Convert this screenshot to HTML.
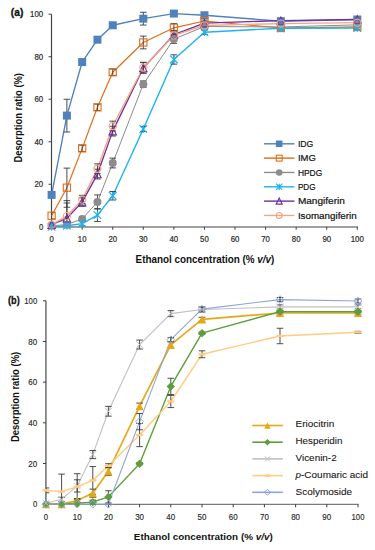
<!DOCTYPE html>
<html><head><meta charset="utf-8"><style>
html,body{margin:0;padding:0;background:#fff;}
body{width:375px;height:550px;overflow:hidden;}
svg{display:block;}
text{font-family:"Liberation Sans",sans-serif;}
.ta{font-size:8.4px;fill:#2a2a2a;stroke:#2a2a2a;stroke-width:0.2px;}
.tb{font-size:8.8px;fill:#2a2a2a;stroke:#2a2a2a;stroke-width:0.15px;}
.la{font-size:9.6px;fill:#111;stroke:#111;stroke-width:0.2px;}
.lb{font-size:9px;fill:#1a1a1a;stroke:#1a1a1a;stroke-width:0.1px;}
.ti{font-size:10.2px;font-weight:bold;fill:#111;}
.tx{font-size:10.5px;font-weight:bold;fill:#111;}
.tx2{font-size:9px;font-weight:bold;fill:#111;}
.pl{font-size:12px;font-weight:bold;fill:#111;stroke:#111;stroke-width:0.3px;}
</style></head><body>
<svg width="375" height="550" viewBox="0 0 375 550">
<defs><clipPath id="ca"><rect x="51.6" y="0" width="320" height="227"/></clipPath><clipPath id="cb"><rect x="46.3" y="280" width="320" height="224.5"/></clipPath></defs>
<rect width="375" height="550" fill="#fff"/>
<text x="10.8" y="16.1" textLength="12.5" lengthAdjust="spacingAndGlyphs" class="pl" style="font-size:10.6px">(a)</text>
<text x="8" y="303.9" textLength="11.7" lengthAdjust="spacingAndGlyphs" class="pl" style="font-size:11.8px">(b)</text>
<text transform="translate(22.2 162.6) rotate(-90)" textLength="89.6" lengthAdjust="spacingAndGlyphs" class="ti">Desorption ratio (%)</text>
<text transform="translate(18.9 442.1) rotate(-90)" textLength="90.3" lengthAdjust="spacingAndGlyphs" class="ti">Desorption ratio (%)</text>
<text x="135.6" y="262.8" textLength="138.8" lengthAdjust="spacingAndGlyphs" class="tx">Ethanol concentration (% <tspan font-style="italic">v/v</tspan>)</text>
<text x="133.8" y="540" textLength="139" lengthAdjust="spacingAndGlyphs" class="tx2">Ethanol concentration (% <tspan font-style="italic">v/v</tspan>)</text>
<path d="M51.5 14.2V227.3M51 227H357.8" stroke="#454545" stroke-width="1.2" fill="none"/>
<path d="M48.5 226.8H51.5M48.5 184.28H51.5M48.5 141.76H51.5M48.5 99.24H51.5M48.5 56.72H51.5M48.5 14.2H51.5M51.6 226.8V229.8M82.17 226.8V229.8M112.74 226.8V229.8M143.31 226.8V229.8M173.88 226.8V229.8M204.45 226.8V229.8M235.02 226.8V229.8M265.59 226.8V229.8M296.16 226.8V229.8M326.73 226.8V229.8M357.3 226.8V229.8" stroke="#454545" stroke-width="1" fill="none"/>
<text x="43.2" y="229.9" text-anchor="end" textLength="4.3" lengthAdjust="spacingAndGlyphs" class="ta">0</text>
<text x="43.2" y="187.38" text-anchor="end" textLength="8.7" lengthAdjust="spacingAndGlyphs" class="ta">20</text>
<text x="43.2" y="144.86" text-anchor="end" textLength="8.7" lengthAdjust="spacingAndGlyphs" class="ta">40</text>
<text x="43.2" y="102.34" text-anchor="end" textLength="8.7" lengthAdjust="spacingAndGlyphs" class="ta">60</text>
<text x="43.2" y="59.82" text-anchor="end" textLength="8.7" lengthAdjust="spacingAndGlyphs" class="ta">80</text>
<text x="43.2" y="17.3" text-anchor="end" textLength="13.2" lengthAdjust="spacingAndGlyphs" class="ta">100</text>
<text x="51.6" y="242.2" text-anchor="middle" textLength="4.3" lengthAdjust="spacingAndGlyphs" class="ta">0</text>
<text x="82.17" y="242.2" text-anchor="middle" textLength="8.7" lengthAdjust="spacingAndGlyphs" class="ta">10</text>
<text x="112.74" y="242.2" text-anchor="middle" textLength="8.7" lengthAdjust="spacingAndGlyphs" class="ta">20</text>
<text x="143.31" y="242.2" text-anchor="middle" textLength="8.7" lengthAdjust="spacingAndGlyphs" class="ta">30</text>
<text x="173.88" y="242.2" text-anchor="middle" textLength="8.7" lengthAdjust="spacingAndGlyphs" class="ta">40</text>
<text x="204.45" y="242.2" text-anchor="middle" textLength="8.7" lengthAdjust="spacingAndGlyphs" class="ta">50</text>
<text x="235.02" y="242.2" text-anchor="middle" textLength="8.7" lengthAdjust="spacingAndGlyphs" class="ta">60</text>
<text x="265.59" y="242.2" text-anchor="middle" textLength="8.7" lengthAdjust="spacingAndGlyphs" class="ta">70</text>
<text x="296.16" y="242.2" text-anchor="middle" textLength="8.7" lengthAdjust="spacingAndGlyphs" class="ta">80</text>
<text x="326.73" y="242.2" text-anchor="middle" textLength="8.7" lengthAdjust="spacingAndGlyphs" class="ta">90</text>
<text x="357.3" y="242.2" text-anchor="middle" textLength="13.2" lengthAdjust="spacingAndGlyphs" class="ta">100</text>
<polyline points="51.6,194.91 66.89,115.61 82.17,62.04 97.45,39.71 112.74,25.26 143.31,18.66 173.88,13.56 204.45,15.26 280.88,21.22 357.3,19.52" fill="none" stroke="#4F81BD" stroke-width="1.35" stroke-linejoin="round"/>
<polyline points="51.6,215.74 66.89,187.68 82.17,148.35 97.45,107.32 112.74,72.24 143.31,42.48 173.88,27.81 204.45,21 280.88,28.02 357.3,26.96" fill="none" stroke="#E06D18" stroke-width="1.2" stroke-linejoin="round"/>
<polyline points="51.6,225.74 66.89,224.67 82.17,218.93 97.45,201.93 112.74,163.02 143.31,84.15 173.88,39.07 204.45,26.53 280.88,26.96 357.3,24.83" fill="none" stroke="#8C8C8C" stroke-width="1.0" stroke-linejoin="round"/>
<polyline points="51.6,226.8 66.89,225.74 82.17,223.61 97.45,215.11 112.74,195.76 143.31,129 173.88,59.48 204.45,32.27 280.88,28.23 357.3,28.02" fill="none" stroke="#1FB2EE" stroke-width="1.4" stroke-linejoin="round"/>
<polyline points="51.6,224.67 66.89,218.3 82.17,202.14 97.45,174.08 112.74,131.13 143.31,67.99 173.88,34.61 204.45,23.13 280.88,20.58 357.3,19.52" fill="none" stroke="#7030A0" stroke-width="1.35" stroke-linejoin="round"/>
<polyline points="51.6,224.67 66.89,216.17 82.17,199.59 97.45,168.76 112.74,126.03 143.31,67.56 173.88,35.46 204.45,25.47 280.88,23.55 357.3,22.7" fill="none" stroke="#F5A582" stroke-width="1.35" stroke-linejoin="round"/>
<g clip-path="url(#ca)">
<path d="M66.89 99.24V131.98M63.59 99.24H70.19M63.59 131.98H70.19" stroke="#3a3a3a" stroke-width="0.9" fill="none"/>
<path d="M143.31 12.29V25.04M140.01 12.29H146.61M140.01 25.04H146.61" stroke="#3a3a3a" stroke-width="0.9" fill="none"/>
<path d="M280.88 19.09V23.34M277.57 19.09H284.18M277.57 23.34H284.18" stroke="#3a3a3a" stroke-width="0.9" fill="none"/>
<path d="M357.3 17.39V21.64M354 17.39H360.6M354 21.64H360.6" stroke="#3a3a3a" stroke-width="0.9" fill="none"/>
<path d="M51.6 212.56V218.93M48.3 212.56H54.9M48.3 218.93H54.9" stroke="#3a3a3a" stroke-width="0.9" fill="none"/>
<path d="M66.89 168.12V207.24M63.59 168.12H70.19M63.59 207.24H70.19" stroke="#3a3a3a" stroke-width="0.9" fill="none"/>
<path d="M82.17 145.16V151.54M78.87 145.16H85.47M78.87 151.54H85.47" stroke="#3a3a3a" stroke-width="0.9" fill="none"/>
<path d="M97.45 104.13V110.51M94.16 104.13H100.75M94.16 110.51H100.75" stroke="#3a3a3a" stroke-width="0.9" fill="none"/>
<path d="M112.74 69.05V75.43M109.44 69.05H116.04M109.44 75.43H116.04" stroke="#3a3a3a" stroke-width="0.9" fill="none"/>
<path d="M143.31 36.1V48.85M140.01 36.1H146.61M140.01 48.85H146.61" stroke="#3a3a3a" stroke-width="0.9" fill="none"/>
<path d="M173.88 23.55V32.06M170.58 23.55H177.18M170.58 32.06H177.18" stroke="#3a3a3a" stroke-width="0.9" fill="none"/>
<path d="M204.45 18.88V23.13M201.15 18.88H207.75M201.15 23.13H207.75" stroke="#3a3a3a" stroke-width="0.9" fill="none"/>
<path d="M280.88 25.89V30.15M277.57 25.89H284.18M277.57 30.15H284.18" stroke="#3a3a3a" stroke-width="0.9" fill="none"/>
<path d="M357.3 24.83V29.08M354 24.83H360.6M354 29.08H360.6" stroke="#3a3a3a" stroke-width="0.9" fill="none"/>
<path d="M51.6 224.67V226.8M48.3 224.67H54.9M48.3 226.8H54.9" stroke="#3a3a3a" stroke-width="0.9" fill="none"/>
<path d="M66.89 222.55V226.8M63.59 222.55H70.19M63.59 226.8H70.19" stroke="#3a3a3a" stroke-width="0.9" fill="none"/>
<path d="M82.17 216.81V221.06M78.87 216.81H85.47M78.87 221.06H85.47" stroke="#3a3a3a" stroke-width="0.9" fill="none"/>
<path d="M97.45 194.91V208.94M94.16 194.91H100.75M94.16 208.94H100.75" stroke="#3a3a3a" stroke-width="0.9" fill="none"/>
<path d="M112.74 158.13V167.91M109.44 158.13H116.04M109.44 167.91H116.04" stroke="#3a3a3a" stroke-width="0.9" fill="none"/>
<path d="M143.31 80.96V87.33M140.01 80.96H146.61M140.01 87.33H146.61" stroke="#3a3a3a" stroke-width="0.9" fill="none"/>
<path d="M173.88 34.82V43.33M170.58 34.82H177.18M170.58 43.33H177.18" stroke="#3a3a3a" stroke-width="0.9" fill="none"/>
<path d="M204.45 24.4V28.66M201.15 24.4H207.75M201.15 28.66H207.75" stroke="#3a3a3a" stroke-width="0.9" fill="none"/>
<path d="M280.88 24.83V29.08M277.57 24.83H284.18M277.57 29.08H284.18" stroke="#3a3a3a" stroke-width="0.9" fill="none"/>
<path d="M357.3 22.7V26.96M354 22.7H360.6M354 26.96H360.6" stroke="#3a3a3a" stroke-width="0.9" fill="none"/>
<path d="M66.89 223.61V226.8M63.59 223.61H70.19M63.59 226.8H70.19" stroke="#3a3a3a" stroke-width="0.9" fill="none"/>
<path d="M82.17 221.49V225.74M78.87 221.49H85.47M78.87 225.74H85.47" stroke="#3a3a3a" stroke-width="0.9" fill="none"/>
<path d="M97.45 208.73V221.49M94.16 208.73H100.75M94.16 221.49H100.75" stroke="#3a3a3a" stroke-width="0.9" fill="none"/>
<path d="M112.74 191.51V200.01M109.44 191.51H116.04M109.44 200.01H116.04" stroke="#3a3a3a" stroke-width="0.9" fill="none"/>
<path d="M143.31 126.45V131.56M140.01 126.45H146.61M140.01 131.56H146.61" stroke="#3a3a3a" stroke-width="0.9" fill="none"/>
<path d="M173.88 54.81V64.16M170.58 54.81H177.18M170.58 64.16H177.18" stroke="#3a3a3a" stroke-width="0.9" fill="none"/>
<path d="M204.45 30.15V34.4M201.15 30.15H207.75M201.15 34.4H207.75" stroke="#3a3a3a" stroke-width="0.9" fill="none"/>
<path d="M280.88 26.11V30.36M277.57 26.11H284.18M277.57 30.36H284.18" stroke="#3a3a3a" stroke-width="0.9" fill="none"/>
<path d="M357.3 25.89V30.15M354 25.89H360.6M354 30.15H360.6" stroke="#3a3a3a" stroke-width="0.9" fill="none"/>
<path d="M51.6 223.61V225.74M48.3 223.61H54.9M48.3 225.74H54.9" stroke="#3a3a3a" stroke-width="0.9" fill="none"/>
<path d="M66.89 200.65V226.8M63.59 200.65H70.19M63.59 226.8H70.19" stroke="#3a3a3a" stroke-width="0.9" fill="none"/>
<path d="M82.17 197.89V206.39M78.87 197.89H85.47M78.87 206.39H85.47" stroke="#3a3a3a" stroke-width="0.9" fill="none"/>
<path d="M97.45 169.19V178.97M94.16 169.19H100.75M94.16 178.97H100.75" stroke="#3a3a3a" stroke-width="0.9" fill="none"/>
<path d="M112.74 126.24V136.02M109.44 126.24H116.04M109.44 136.02H116.04" stroke="#3a3a3a" stroke-width="0.9" fill="none"/>
<path d="M143.31 62.67V73.3M140.01 62.67H146.61M140.01 73.3H146.61" stroke="#3a3a3a" stroke-width="0.9" fill="none"/>
<path d="M173.88 30.36V38.86M170.58 30.36H177.18M170.58 38.86H177.18" stroke="#3a3a3a" stroke-width="0.9" fill="none"/>
<path d="M204.45 21V25.26M201.15 21H207.75M201.15 25.26H207.75" stroke="#3a3a3a" stroke-width="0.9" fill="none"/>
<path d="M280.88 18.45V22.7M277.57 18.45H284.18M277.57 22.7H284.18" stroke="#3a3a3a" stroke-width="0.9" fill="none"/>
<path d="M357.3 17.39V21.64M354 17.39H360.6M354 21.64H360.6" stroke="#3a3a3a" stroke-width="0.9" fill="none"/>
<path d="M51.6 223.61V225.74M48.3 223.61H54.9M48.3 225.74H54.9" stroke="#3a3a3a" stroke-width="0.9" fill="none"/>
<path d="M66.89 202.99V226.8M63.59 202.99H70.19M63.59 226.8H70.19" stroke="#3a3a3a" stroke-width="0.9" fill="none"/>
<path d="M82.17 195.34V203.84M78.87 195.34H85.47M78.87 203.84H85.47" stroke="#3a3a3a" stroke-width="0.9" fill="none"/>
<path d="M97.45 163.87V173.65M94.16 163.87H100.75M94.16 173.65H100.75" stroke="#3a3a3a" stroke-width="0.9" fill="none"/>
<path d="M112.74 121.14V130.92M109.44 121.14H116.04M109.44 130.92H116.04" stroke="#3a3a3a" stroke-width="0.9" fill="none"/>
<path d="M143.31 62.25V72.88M140.01 62.25H146.61M140.01 72.88H146.61" stroke="#3a3a3a" stroke-width="0.9" fill="none"/>
<path d="M173.88 31.21V39.71M170.58 31.21H177.18M170.58 39.71H177.18" stroke="#3a3a3a" stroke-width="0.9" fill="none"/>
<path d="M204.45 23.34V27.59M201.15 23.34H207.75M201.15 27.59H207.75" stroke="#3a3a3a" stroke-width="0.9" fill="none"/>
<path d="M280.88 21.43V25.68M277.57 21.43H284.18M277.57 25.68H284.18" stroke="#3a3a3a" stroke-width="0.9" fill="none"/>
<path d="M357.3 20.58V24.83M354 20.58H360.6M354 24.83H360.6" stroke="#3a3a3a" stroke-width="0.9" fill="none"/>
</g>
<rect x="47.6" y="190.91" width="8" height="8" fill="#4F81BD"/>
<rect x="62.89" y="111.61" width="8" height="8" fill="#4F81BD"/>
<rect x="78.17" y="58.04" width="8" height="8" fill="#4F81BD"/>
<rect x="93.45" y="35.71" width="8" height="8" fill="#4F81BD"/>
<rect x="108.74" y="21.26" width="8" height="8" fill="#4F81BD"/>
<rect x="139.31" y="14.66" width="8" height="8" fill="#4F81BD"/>
<rect x="169.88" y="9.56" width="8" height="8" fill="#4F81BD"/>
<rect x="200.45" y="11.26" width="8" height="8" fill="#4F81BD"/>
<rect x="276.88" y="17.22" width="8" height="8" fill="#4F81BD"/>
<rect x="353.3" y="15.52" width="8" height="8" fill="#4F81BD"/>
<rect x="48" y="212.14" width="7.2" height="7.2" fill="none" stroke="#E06D18" stroke-width="1.1"/>
<rect x="63.29" y="184.08" width="7.2" height="7.2" fill="none" stroke="#E06D18" stroke-width="1.1"/>
<rect x="78.57" y="144.75" width="7.2" height="7.2" fill="none" stroke="#E06D18" stroke-width="1.1"/>
<rect x="93.86" y="103.72" width="7.2" height="7.2" fill="none" stroke="#E06D18" stroke-width="1.1"/>
<rect x="109.14" y="68.64" width="7.2" height="7.2" fill="none" stroke="#E06D18" stroke-width="1.1"/>
<rect x="139.71" y="38.88" width="7.2" height="7.2" fill="none" stroke="#E06D18" stroke-width="1.1"/>
<rect x="170.28" y="24.21" width="7.2" height="7.2" fill="none" stroke="#E06D18" stroke-width="1.1"/>
<rect x="200.85" y="17.4" width="7.2" height="7.2" fill="none" stroke="#E06D18" stroke-width="1.1"/>
<rect x="277.27" y="24.42" width="7.2" height="7.2" fill="none" stroke="#E06D18" stroke-width="1.1"/>
<rect x="353.7" y="23.36" width="7.2" height="7.2" fill="none" stroke="#E06D18" stroke-width="1.1"/>
<circle cx="51.6" cy="225.74" r="4" fill="#8C8C8C"/>
<circle cx="66.89" cy="224.67" r="4" fill="#8C8C8C"/>
<circle cx="82.17" cy="218.93" r="4" fill="#8C8C8C"/>
<circle cx="97.45" cy="201.93" r="4" fill="#8C8C8C"/>
<circle cx="112.74" cy="163.02" r="4" fill="#8C8C8C"/>
<circle cx="143.31" cy="84.15" r="4" fill="#8C8C8C"/>
<circle cx="173.88" cy="39.07" r="4" fill="#8C8C8C"/>
<circle cx="204.45" cy="26.53" r="4" fill="#8C8C8C"/>
<circle cx="280.88" cy="26.96" r="4" fill="#8C8C8C"/>
<circle cx="357.3" cy="24.83" r="4" fill="#8C8C8C"/>
<path d="M47.8 223L55.4 230.6M55.4 223L47.8 230.6M51.6 223L51.6 230.6" stroke="#1FB2EE" stroke-width="1.2" fill="none"/>
<path d="M63.09 221.94L70.69 229.54M70.69 221.94L63.09 229.54M66.89 221.94L66.89 229.54" stroke="#1FB2EE" stroke-width="1.2" fill="none"/>
<path d="M78.37 219.81L85.97 227.41M85.97 219.81L78.37 227.41M82.17 219.81L82.17 227.41" stroke="#1FB2EE" stroke-width="1.2" fill="none"/>
<path d="M93.66 211.31L101.25 218.91M101.25 211.31L93.66 218.91M97.45 211.31L97.45 218.91" stroke="#1FB2EE" stroke-width="1.2" fill="none"/>
<path d="M108.94 191.96L116.54 199.56M116.54 191.96L108.94 199.56M112.74 191.96L112.74 199.56" stroke="#1FB2EE" stroke-width="1.2" fill="none"/>
<path d="M139.51 125.2L147.11 132.8M147.11 125.2L139.51 132.8M143.31 125.2L143.31 132.8" stroke="#1FB2EE" stroke-width="1.2" fill="none"/>
<path d="M170.08 55.68L177.68 63.28M177.68 55.68L170.08 63.28M173.88 55.68L173.88 63.28" stroke="#1FB2EE" stroke-width="1.2" fill="none"/>
<path d="M200.65 28.47L208.25 36.07M208.25 28.47L200.65 36.07M204.45 28.47L204.45 36.07" stroke="#1FB2EE" stroke-width="1.2" fill="none"/>
<path d="M277.07 24.43L284.68 32.03M284.68 24.43L277.07 32.03M280.88 24.43L280.88 32.03" stroke="#1FB2EE" stroke-width="1.2" fill="none"/>
<path d="M353.5 24.22L361.1 31.82M361.1 24.22L353.5 31.82M357.3 24.22L357.3 31.82" stroke="#1FB2EE" stroke-width="1.2" fill="none"/>
<path d="M51.6 220.97L55.3 228.37L47.9 228.37Z" fill="none" stroke="#7030A0" stroke-width="1.1" stroke-linejoin="miter"/>
<path d="M66.89 214.6L70.59 222L63.19 222Z" fill="none" stroke="#7030A0" stroke-width="1.1" stroke-linejoin="miter"/>
<path d="M82.17 198.44L85.87 205.84L78.47 205.84Z" fill="none" stroke="#7030A0" stroke-width="1.1" stroke-linejoin="miter"/>
<path d="M97.45 170.38L101.16 177.78L93.75 177.78Z" fill="none" stroke="#7030A0" stroke-width="1.1" stroke-linejoin="miter"/>
<path d="M112.74 127.43L116.44 134.83L109.04 134.83Z" fill="none" stroke="#7030A0" stroke-width="1.1" stroke-linejoin="miter"/>
<path d="M143.31 64.29L147.01 71.69L139.61 71.69Z" fill="none" stroke="#7030A0" stroke-width="1.1" stroke-linejoin="miter"/>
<path d="M173.88 30.91L177.58 38.31L170.18 38.31Z" fill="none" stroke="#7030A0" stroke-width="1.1" stroke-linejoin="miter"/>
<path d="M204.45 19.43L208.15 26.83L200.75 26.83Z" fill="none" stroke="#7030A0" stroke-width="1.1" stroke-linejoin="miter"/>
<path d="M280.88 16.88L284.57 24.28L277.18 24.28Z" fill="none" stroke="#7030A0" stroke-width="1.1" stroke-linejoin="miter"/>
<path d="M357.3 15.82L361 23.22L353.6 23.22Z" fill="none" stroke="#7030A0" stroke-width="1.1" stroke-linejoin="miter"/>
<circle cx="51.6" cy="224.67" r="3.6" fill="none" stroke="#F5A582" stroke-width="1.1"/>
<circle cx="66.89" cy="216.17" r="3.6" fill="none" stroke="#F5A582" stroke-width="1.1"/>
<circle cx="82.17" cy="199.59" r="3.6" fill="none" stroke="#F5A582" stroke-width="1.1"/>
<circle cx="97.45" cy="168.76" r="3.6" fill="none" stroke="#F5A582" stroke-width="1.1"/>
<circle cx="112.74" cy="126.03" r="3.6" fill="none" stroke="#F5A582" stroke-width="1.1"/>
<circle cx="143.31" cy="67.56" r="3.6" fill="none" stroke="#F5A582" stroke-width="1.1"/>
<circle cx="173.88" cy="35.46" r="3.6" fill="none" stroke="#F5A582" stroke-width="1.1"/>
<circle cx="204.45" cy="25.47" r="3.6" fill="none" stroke="#F5A582" stroke-width="1.1"/>
<circle cx="280.88" cy="23.55" r="3.6" fill="none" stroke="#F5A582" stroke-width="1.1"/>
<circle cx="357.3" cy="22.7" r="3.6" fill="none" stroke="#F5A582" stroke-width="1.1"/>
<path d="M264 143.8H294.4" stroke="#4F81BD" stroke-width="1.4"/>
<rect x="275.92" y="140.52" width="6.56" height="6.56" fill="#4F81BD"/>
<text x="297.9" y="146.9" textLength="15.4" lengthAdjust="spacingAndGlyphs" class="la">IDG</text>
<path d="M264 158.13H294.4" stroke="#E06D18" stroke-width="1.4"/>
<rect x="276.25" y="155.18" width="5.9" height="5.9" fill="none" stroke="#E06D18" stroke-width="1.1"/>
<text x="297.9" y="161.26" textLength="17.9" lengthAdjust="spacingAndGlyphs" class="la">IMG</text>
<path d="M264 172.46H294.4" stroke="#8C8C8C" stroke-width="1.4"/>
<circle cx="279.2" cy="172.46" r="3.28" fill="#8C8C8C"/>
<text x="297.9" y="175.62" textLength="24.4" lengthAdjust="spacingAndGlyphs" class="la">HPDG</text>
<path d="M264 186.79H294.4" stroke="#1FB2EE" stroke-width="1.4"/>
<path d="M276.08 183.67L282.32 189.91M282.32 183.67L276.08 189.91M279.2 183.67L279.2 189.91" stroke="#1FB2EE" stroke-width="1.2" fill="none"/>
<text x="297.9" y="189.98" textLength="17.7" lengthAdjust="spacingAndGlyphs" class="la">PDG</text>
<path d="M264 201.12H294.4" stroke="#7030A0" stroke-width="1.4"/>
<path d="M279.2 198.09L282.23 204.15L276.17 204.15Z" fill="none" stroke="#7030A0" stroke-width="1.1" stroke-linejoin="miter"/>
<text x="297.9" y="204.34" textLength="47" lengthAdjust="spacingAndGlyphs" class="la">Mangiferin</text>
<path d="M264 215.45H294.4" stroke="#F5A582" stroke-width="1.4"/>
<circle cx="279.2" cy="215.45" r="2.95" fill="none" stroke="#F5A582" stroke-width="1.1"/>
<text x="297.9" y="218.7" textLength="58.8" lengthAdjust="spacingAndGlyphs" class="la">Isomangiferin</text>
<path d="M45.9 300.8V504.7" stroke="#858585" stroke-width="1.8" fill="none"/><path d="M45.5 504.3H358.5" stroke="#5a5a5a" stroke-width="1" fill="none"/>
<path d="M43 504.2H46M43 463.52H46M43 422.84H46M43 382.16H46M43 341.48H46M43 300.8H46M46 504.3V507.3M77.2 504.3V507.3M108.4 504.3V507.3M139.6 504.3V507.3M170.8 504.3V507.3M202 504.3V507.3M233.2 504.3V507.3M264.4 504.3V507.3M295.6 504.3V507.3M326.8 504.3V507.3M358 504.3V507.3" stroke="#3a3a3a" stroke-width="1" fill="none"/>
<text x="37.2" y="507.3" text-anchor="end" textLength="4.3" lengthAdjust="spacingAndGlyphs" class="tb">0</text>
<text x="37.2" y="466.62" text-anchor="end" textLength="8.9" lengthAdjust="spacingAndGlyphs" class="tb">20</text>
<text x="37.2" y="425.94" text-anchor="end" textLength="8.9" lengthAdjust="spacingAndGlyphs" class="tb">40</text>
<text x="37.2" y="385.26" text-anchor="end" textLength="8.9" lengthAdjust="spacingAndGlyphs" class="tb">60</text>
<text x="37.2" y="344.58" text-anchor="end" textLength="8.9" lengthAdjust="spacingAndGlyphs" class="tb">80</text>
<text x="37.2" y="303.9" text-anchor="end" textLength="12.9" lengthAdjust="spacingAndGlyphs" class="tb">100</text>
<text x="46" y="520.2" text-anchor="middle" textLength="4.3" lengthAdjust="spacingAndGlyphs" class="tb">0</text>
<text x="77.2" y="520.2" text-anchor="middle" textLength="8.9" lengthAdjust="spacingAndGlyphs" class="tb">10</text>
<text x="108.4" y="520.2" text-anchor="middle" textLength="8.9" lengthAdjust="spacingAndGlyphs" class="tb">20</text>
<text x="139.6" y="520.2" text-anchor="middle" textLength="8.9" lengthAdjust="spacingAndGlyphs" class="tb">30</text>
<text x="170.8" y="520.2" text-anchor="middle" textLength="8.9" lengthAdjust="spacingAndGlyphs" class="tb">40</text>
<text x="202" y="520.2" text-anchor="middle" textLength="8.9" lengthAdjust="spacingAndGlyphs" class="tb">50</text>
<text x="233.2" y="520.2" text-anchor="middle" textLength="8.9" lengthAdjust="spacingAndGlyphs" class="tb">60</text>
<text x="264.4" y="520.2" text-anchor="middle" textLength="8.9" lengthAdjust="spacingAndGlyphs" class="tb">70</text>
<text x="295.6" y="520.2" text-anchor="middle" textLength="8.9" lengthAdjust="spacingAndGlyphs" class="tb">80</text>
<text x="326.8" y="520.2" text-anchor="middle" textLength="8.9" lengthAdjust="spacingAndGlyphs" class="tb">90</text>
<text x="358" y="520.2" text-anchor="middle" textLength="12.9" lengthAdjust="spacingAndGlyphs" class="tb">100</text>
<polyline points="46,504.2 61.6,504.2 77.2,500.54 92.8,493.22 108.4,471.25 139.6,406.16 170.8,344.94 202,319.31 280,313 358,313" fill="none" stroke="#E6A817" stroke-width="1.7" stroke-linejoin="round"/>
<polyline points="46,504.2 61.6,504.2 77.2,503.18 92.8,502.17 108.4,496.88 139.6,463.72 170.8,386.43 202,333.14 280,311.58 358,311.78" fill="none" stroke="#5E9E3A" stroke-width="1.4" stroke-linejoin="round"/>
<polyline points="46,503.18 61.6,499.32 77.2,485.89 92.8,454.57 108.4,411.25 139.6,344.53 170.8,313.61 202,309.55 280,306.9 358,306.9" fill="none" stroke="#C0C0C0" stroke-width="1.1" stroke-linejoin="round"/>
<polyline points="46,490.37 61.6,491.59 77.2,486.71 92.8,480.4 108.4,465.76 139.6,435.04 170.8,401.48 202,354.29 280,335.99 358,332.33" fill="none" stroke="#FFCC80" stroke-width="1.45" stroke-linejoin="round"/>
<polyline points="46,504.2 61.6,504.2 77.2,504.2 92.8,504.2 108.4,504.2 139.6,421.62 170.8,339.65 202,309.14 280,299.58 358,301" fill="none" stroke="#8EA4DA" stroke-width="1.1" stroke-linejoin="round"/>
<g clip-path="url(#cb)">
<path d="M77.2 498.5V502.57M73.9 498.5H80.5M73.9 502.57H80.5" stroke="#3a3a3a" stroke-width="0.9" fill="none"/>
<path d="M92.8 489.15V497.28M89.5 489.15H96.1M89.5 497.28H96.1" stroke="#3a3a3a" stroke-width="0.9" fill="none"/>
<path d="M108.4 467.18V475.32M105.1 467.18H111.7M105.1 475.32H111.7" stroke="#3a3a3a" stroke-width="0.9" fill="none"/>
<path d="M139.6 403.11V409.21M136.3 403.11H142.9M136.3 409.21H142.9" stroke="#3a3a3a" stroke-width="0.9" fill="none"/>
<path d="M170.8 341.89V347.99M167.5 341.89H174.1M167.5 347.99H174.1" stroke="#3a3a3a" stroke-width="0.9" fill="none"/>
<path d="M202 317.28V321.34M198.7 317.28H205.3M198.7 321.34H205.3" stroke="#3a3a3a" stroke-width="0.9" fill="none"/>
<path d="M280 310.97V315.04M276.7 310.97H283.3M276.7 315.04H283.3" stroke="#3a3a3a" stroke-width="0.9" fill="none"/>
<path d="M358 310.97V315.04M354.7 310.97H361.3M354.7 315.04H361.3" stroke="#3a3a3a" stroke-width="0.9" fill="none"/>
<path d="M77.2 502.17V504.2M73.9 502.17H80.5M73.9 504.2H80.5" stroke="#3a3a3a" stroke-width="0.9" fill="none"/>
<path d="M92.8 500.13V504.2M89.5 500.13H96.1M89.5 504.2H96.1" stroke="#3a3a3a" stroke-width="0.9" fill="none"/>
<path d="M108.4 490.78V502.98M105.1 490.78H111.7M105.1 502.98H111.7" stroke="#3a3a3a" stroke-width="0.9" fill="none"/>
<path d="M139.6 462.71V464.74M136.3 462.71H142.9M136.3 464.74H142.9" stroke="#3a3a3a" stroke-width="0.9" fill="none"/>
<path d="M170.8 378.3V394.57M167.5 378.3H174.1M167.5 394.57H174.1" stroke="#3a3a3a" stroke-width="0.9" fill="none"/>
<path d="M202 332.12V334.16M198.7 332.12H205.3M198.7 334.16H205.3" stroke="#3a3a3a" stroke-width="0.9" fill="none"/>
<path d="M280 310.56V312.6M276.7 310.56H283.3M276.7 312.6H283.3" stroke="#3a3a3a" stroke-width="0.9" fill="none"/>
<path d="M358 310.77V312.8M354.7 310.77H361.3M354.7 312.8H361.3" stroke="#3a3a3a" stroke-width="0.9" fill="none"/>
<path d="M46 502.17V504.2M42.7 502.17H49.3M42.7 504.2H49.3" stroke="#3a3a3a" stroke-width="0.9" fill="none"/>
<path d="M61.6 497.28V501.35M58.3 497.28H64.9M58.3 501.35H64.9" stroke="#3a3a3a" stroke-width="0.9" fill="none"/>
<path d="M77.2 479.79V492M73.9 479.79H80.5M73.9 492H80.5" stroke="#3a3a3a" stroke-width="0.9" fill="none"/>
<path d="M92.8 450.5V458.64M89.5 450.5H96.1M89.5 458.64H96.1" stroke="#3a3a3a" stroke-width="0.9" fill="none"/>
<path d="M108.4 406.36V416.13M105.1 406.36H111.7M105.1 416.13H111.7" stroke="#3a3a3a" stroke-width="0.9" fill="none"/>
<path d="M139.6 340.06V349.01M136.3 340.06H142.9M136.3 349.01H142.9" stroke="#3a3a3a" stroke-width="0.9" fill="none"/>
<path d="M170.8 310.56V316.67M167.5 310.56H174.1M167.5 316.67H174.1" stroke="#3a3a3a" stroke-width="0.9" fill="none"/>
<path d="M202 306.9V312.19M198.7 306.9H205.3M198.7 312.19H205.3" stroke="#3a3a3a" stroke-width="0.9" fill="none"/>
<path d="M280 304.87V308.94M276.7 304.87H283.3M276.7 308.94H283.3" stroke="#3a3a3a" stroke-width="0.9" fill="none"/>
<path d="M358 304.87V308.94M354.7 304.87H361.3M354.7 308.94H361.3" stroke="#3a3a3a" stroke-width="0.9" fill="none"/>
<path d="M46 487.93V492.81M42.7 487.93H49.3M42.7 492.81H49.3" stroke="#3a3a3a" stroke-width="0.9" fill="none"/>
<path d="M61.6 474.1V504.2M58.3 474.1H64.9M58.3 504.2H64.9" stroke="#3a3a3a" stroke-width="0.9" fill="none"/>
<path d="M77.2 473.69V499.73M73.9 473.69H80.5M73.9 499.73H80.5" stroke="#3a3a3a" stroke-width="0.9" fill="none"/>
<path d="M92.8 466.57V494.23M89.5 466.57H96.1M89.5 494.23H96.1" stroke="#3a3a3a" stroke-width="0.9" fill="none"/>
<path d="M108.4 463.72V467.79M105.1 463.72H111.7M105.1 467.79H111.7" stroke="#3a3a3a" stroke-width="0.9" fill="none"/>
<path d="M139.6 423.45V446.64M136.3 423.45H142.9M136.3 446.64H142.9" stroke="#3a3a3a" stroke-width="0.9" fill="none"/>
<path d="M170.8 395.38V407.58M167.5 395.38H174.1M167.5 407.58H174.1" stroke="#3a3a3a" stroke-width="0.9" fill="none"/>
<path d="M202 350.84V357.75M198.7 350.84H205.3M198.7 357.75H205.3" stroke="#3a3a3a" stroke-width="0.9" fill="none"/>
<path d="M280 328.26V343.72M276.7 328.26H283.3M276.7 343.72H283.3" stroke="#3a3a3a" stroke-width="0.9" fill="none"/>
<path d="M358 331.31V333.34M354.7 331.31H361.3M354.7 333.34H361.3" stroke="#3a3a3a" stroke-width="0.9" fill="none"/>
<path d="M139.6 413.48V429.76M136.3 413.48H142.9M136.3 429.76H142.9" stroke="#3a3a3a" stroke-width="0.9" fill="none"/>
<path d="M170.8 337.62V341.68M167.5 337.62H174.1M167.5 341.68H174.1" stroke="#3a3a3a" stroke-width="0.9" fill="none"/>
<path d="M202 307.11V311.17M198.7 307.11H205.3M198.7 311.17H205.3" stroke="#3a3a3a" stroke-width="0.9" fill="none"/>
<path d="M280 297.55V301.61M276.7 297.55H283.3M276.7 301.61H283.3" stroke="#3a3a3a" stroke-width="0.9" fill="none"/>
<path d="M358 298.97V303.04M354.7 298.97H361.3M354.7 303.04H361.3" stroke="#3a3a3a" stroke-width="0.9" fill="none"/>
</g>
<path d="M46 500.1L50.1 508.3L41.9 508.3Z" fill="#E6A817"/>
<path d="M61.6 500.1L65.7 508.3L57.5 508.3Z" fill="#E6A817"/>
<path d="M77.2 496.44L81.3 504.64L73.1 504.64Z" fill="#E6A817"/>
<path d="M92.8 489.12L96.9 497.32L88.7 497.32Z" fill="#E6A817"/>
<path d="M108.4 467.15L112.5 475.35L104.3 475.35Z" fill="#E6A817"/>
<path d="M139.6 402.06L143.7 410.26L135.5 410.26Z" fill="#E6A817"/>
<path d="M170.8 340.84L174.9 349.04L166.7 349.04Z" fill="#E6A817"/>
<path d="M202 315.21L206.1 323.41L197.9 323.41Z" fill="#E6A817"/>
<path d="M280 308.9L284.1 317.1L275.9 317.1Z" fill="#E6A817"/>
<path d="M358 308.9L362.1 317.1L353.9 317.1Z" fill="#E6A817"/>
<path d="M46 500L50.2 504.2L46 508.4L41.8 504.2Z" fill="#5E9E3A"/>
<path d="M61.6 500L65.8 504.2L61.6 508.4L57.4 504.2Z" fill="#5E9E3A"/>
<path d="M77.2 498.98L81.4 503.18L77.2 507.38L73 503.18Z" fill="#5E9E3A"/>
<path d="M92.8 497.97L97 502.17L92.8 506.37L88.6 502.17Z" fill="#5E9E3A"/>
<path d="M108.4 492.68L112.6 496.88L108.4 501.08L104.2 496.88Z" fill="#5E9E3A"/>
<path d="M139.6 459.52L143.8 463.72L139.6 467.92L135.4 463.72Z" fill="#5E9E3A"/>
<path d="M170.8 382.23L175 386.43L170.8 390.63L166.6 386.43Z" fill="#5E9E3A"/>
<path d="M202 328.94L206.2 333.14L202 337.34L197.8 333.14Z" fill="#5E9E3A"/>
<path d="M280 307.38L284.2 311.58L280 315.78L275.8 311.58Z" fill="#5E9E3A"/>
<path d="M358 307.58L362.2 311.78L358 315.98L353.8 311.78Z" fill="#5E9E3A"/>
<path d="M42.7 499.88L49.3 506.48M49.3 499.88L42.7 506.48" stroke="#C0C0C0" stroke-width="1" fill="none"/>
<path d="M58.3 496.02L64.9 502.62M64.9 496.02L58.3 502.62" stroke="#C0C0C0" stroke-width="1" fill="none"/>
<path d="M73.9 482.59L80.5 489.19M80.5 482.59L73.9 489.19" stroke="#C0C0C0" stroke-width="1" fill="none"/>
<path d="M89.5 451.27L96.1 457.87M96.1 451.27L89.5 457.87" stroke="#C0C0C0" stroke-width="1" fill="none"/>
<path d="M105.1 407.95L111.7 414.55M111.7 407.95L105.1 414.55" stroke="#C0C0C0" stroke-width="1" fill="none"/>
<path d="M136.3 341.23L142.9 347.83M142.9 341.23L136.3 347.83" stroke="#C0C0C0" stroke-width="1" fill="none"/>
<path d="M167.5 310.31L174.1 316.91M174.1 310.31L167.5 316.91" stroke="#C0C0C0" stroke-width="1" fill="none"/>
<path d="M198.7 306.25L205.3 312.85M205.3 306.25L198.7 312.85" stroke="#C0C0C0" stroke-width="1" fill="none"/>
<path d="M276.7 303.6L283.3 310.2M283.3 303.6L276.7 310.2" stroke="#C0C0C0" stroke-width="1" fill="none"/>
<path d="M354.7 303.6L361.3 310.2M361.3 303.6L354.7 310.2" stroke="#C0C0C0" stroke-width="1" fill="none"/>
<path d="M42.5 490.37L49.5 490.37" stroke="#FFCC80" stroke-width="2.4" fill="none"/>
<path d="M58.1 491.59L65.1 491.59" stroke="#FFCC80" stroke-width="2.4" fill="none"/>
<path d="M73.7 486.71L80.7 486.71" stroke="#FFCC80" stroke-width="2.4" fill="none"/>
<path d="M89.3 480.4L96.3 480.4" stroke="#FFCC80" stroke-width="2.4" fill="none"/>
<path d="M104.9 465.76L111.9 465.76" stroke="#FFCC80" stroke-width="2.4" fill="none"/>
<path d="M136.1 435.04L143.1 435.04" stroke="#FFCC80" stroke-width="2.4" fill="none"/>
<path d="M167.3 401.48L174.3 401.48" stroke="#FFCC80" stroke-width="2.4" fill="none"/>
<path d="M198.5 354.29L205.5 354.29" stroke="#FFCC80" stroke-width="2.4" fill="none"/>
<path d="M276.5 335.99L283.5 335.99" stroke="#FFCC80" stroke-width="2.4" fill="none"/>
<path d="M354.5 332.33L361.5 332.33" stroke="#FFCC80" stroke-width="2.4" fill="none"/>
<path d="M46 500.4L49.8 504.2L46 508L42.2 504.2Z" fill="none" stroke="#8EA4DA" stroke-width="1"/>
<path d="M61.6 500.4L65.4 504.2L61.6 508L57.8 504.2Z" fill="none" stroke="#8EA4DA" stroke-width="1"/>
<path d="M77.2 500.4L81 504.2L77.2 508L73.4 504.2Z" fill="none" stroke="#8EA4DA" stroke-width="1"/>
<path d="M92.8 500.4L96.6 504.2L92.8 508L89 504.2Z" fill="none" stroke="#8EA4DA" stroke-width="1"/>
<path d="M108.4 500.4L112.2 504.2L108.4 508L104.6 504.2Z" fill="none" stroke="#8EA4DA" stroke-width="1"/>
<path d="M139.6 417.82L143.4 421.62L139.6 425.42L135.8 421.62Z" fill="none" stroke="#8EA4DA" stroke-width="1"/>
<path d="M170.8 335.85L174.6 339.65L170.8 343.45L167 339.65Z" fill="none" stroke="#8EA4DA" stroke-width="1"/>
<path d="M202 305.34L205.8 309.14L202 312.94L198.2 309.14Z" fill="none" stroke="#8EA4DA" stroke-width="1"/>
<path d="M280 295.78L283.8 299.58L280 303.38L276.2 299.58Z" fill="none" stroke="#8EA4DA" stroke-width="1"/>
<path d="M358 297.2L361.8 301L358 304.8L354.2 301Z" fill="none" stroke="#8EA4DA" stroke-width="1"/>
<path d="M252.3 425.5H282.8" stroke="#E6A817" stroke-width="1.6"/>
<path d="M267.4 422.3L270.6 428.7L264.2 428.7Z" fill="#E6A817"/>
<text x="295.5" y="427.3" textLength="38.8" lengthAdjust="spacingAndGlyphs" class="lb">Eriocitrin</text>
<path d="M252.3 442.2H282.8" stroke="#5E9E3A" stroke-width="1.6"/>
<path d="M267.4 438.92L270.68 442.2L267.4 445.48L264.12 442.2Z" fill="#5E9E3A"/>
<text x="295.5" y="444.2" textLength="47" lengthAdjust="spacingAndGlyphs" class="lb">Hesperidin</text>
<path d="M252.3 458.9H282.8" stroke="#C0C0C0" stroke-width="1.6"/>
<path d="M264.83 456.33L269.97 461.47M269.97 456.33L264.83 461.47" stroke="#C0C0C0" stroke-width="1" fill="none"/>
<text x="295.5" y="461.1" textLength="41.2" lengthAdjust="spacingAndGlyphs" class="lb">Vicenin-2</text>
<path d="M252.3 475.6H282.8" stroke="#FFCC80" stroke-width="1.6"/>
<path d="M264.67 475.6L270.13 475.6" stroke="#FFCC80" stroke-width="2.4" fill="none"/>
<text x="295.5" y="478" textLength="72.6" lengthAdjust="spacingAndGlyphs" class="lb"><tspan font-style="italic">p</tspan>-Coumaric acid</text>
<path d="M252.3 492.3H282.8" stroke="#8EA4DA" stroke-width="1.6"/>
<path d="M267.4 489.34L270.36 492.3L267.4 495.26L264.44 492.3Z" fill="none" stroke="#8EA4DA" stroke-width="1"/>
<text x="295.5" y="494.9" textLength="56.6" lengthAdjust="spacingAndGlyphs" class="lb">Scolymoside</text>
</svg>
</body></html>
